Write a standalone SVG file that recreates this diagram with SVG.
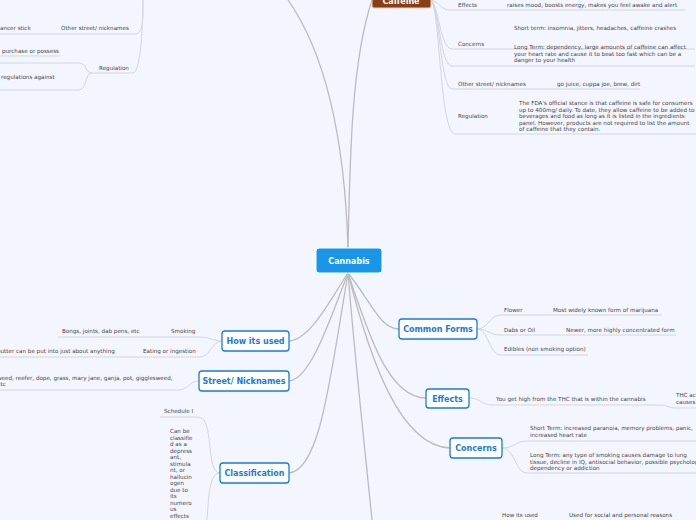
<svg xmlns="http://www.w3.org/2000/svg" width="696" height="520" viewBox="0 0 696 520">
<style>
.t{font-family:"DejaVu Sans",sans-serif;font-size:5.6px;fill:#444}
.n{font-family:"DejaVu Sans",sans-serif;font-size:8px;font-weight:bold;fill:#1a7ae0;text-anchor:middle}
.bx{fill:#fff;stroke:#1a7ae0;stroke-width:1.3}
.c{fill:none;stroke:#bcbcbc;stroke-width:1.3}
.u{fill:none;stroke:#d4d6dc;stroke-width:1}
</style>
<rect width="696" height="520" fill="#f3f6fe"/>
<g id="connectors">
<path class="c" d="M348 248 C345 150 330 60 288 0"/>
<path class="c" d="M348 248 C350 150 352 60 372 0"/>
<path class="c" d="M348 273 C330 300 310 340 289 341"/>
<path class="c" d="M348 273 C330 320 310 380 289 381"/>
<path class="c" d="M348 273 C330 380 320 470 289 473"/>
<path class="c" d="M348 273 C370 300 380 329 399 329"/>
<path class="c" d="M348 273 C370 340 390 398 426 398"/>
<path class="c" d="M348 273 C370 360 400 446 450 448"/>
<path class="c" d="M348 273 C355 360 365 450 372 520"/>
<path class="u" d="M431 0 C440 2 440 10 450 10 L685 10"/>
<path class="u" d="M431 0 C440 10 440 48 452 49 L695 49"/>
<path class="u" d="M431 0 C440 10 440 66 452 66 L695 66"/>
<path class="u" d="M431 0 C440 10 440 88 452 89 L640 89"/>
<path class="u" d="M431 0 C440 10 440 134 455 134 L696 134"/>
<path class="u" d="M143 0 C143 20 143 34 135 34 L0 34"/>
<path class="u" d="M143 0 C143 30 140 73 133 73 L92 73"/>
<path class="u" d="M92 73 C84 73 88 63 78 63 L0 63"/>
<path class="u" d="M92 73 C84 73 88 90 78 90 L0 90"/>
<path class="u" d="M0 56 L60 56"/>
<path class="u" d="M222 341 C212 341 210 337 200 337 L58 337"/>
<path class="u" d="M222 341 C212 341 210 357 200 357 L0 357"/>
<path class="u" d="M199 381 C189 381 188 390 178 390 L0 390"/>
<path class="u" d="M220 473 C205 473 215 417 198 417 L160 417"/>
<path class="u" d="M220 473 C205 473 210 520 205 525"/>
<path class="u" d="M477 329 C488 329 490 315 500 315 L662 315"/>
<path class="u" d="M477 329 C488 329 490 335 500 335 L676 335"/>
<path class="u" d="M477 329 C488 329 490 355 500 355 L588 355"/>
<path class="u" d="M469 398 C480 398 482 405 492 405 L660 405 C668 405 668 408 676 408 L696 408"/>
<path class="u" d="M502 448 C515 448 515 441 527 441 L696 441"/>
<path class="u" d="M502 448 C515 448 515 473 527 473 L696 473"/>
</g>
<g id="cannabis"><rect x="316" y="248" width="66" height="25" rx="3" fill="#1a96e8" stroke="#fff"/><text x="349" y="264" class="n" style="fill:#fff">Cannabis</text></g>
<g id="caffeine"><rect x="372" y="-10" width="59" height="18" rx="2" fill="#8b3e15" stroke="#e6d0c0"/><text x="401" y="4" class="n" style="fill:#fff">Caffeine</text></g>
<g id="how"><rect class="bx" x="222" y="331" width="67" height="20" rx="3"/><text x="255.5" y="344" class="n">How its used</text></g>
<g id="street"><rect class="bx" x="199" y="371" width="90" height="20" rx="3"/><text x="244" y="384" class="n">Street/ Nicknames</text></g>
<g id="class"><rect class="bx" x="220" y="463" width="69" height="20" rx="3"/><text x="254.5" y="476" class="n">Classification</text></g>
<g id="forms"><rect class="bx" x="399" y="319" width="78" height="20" rx="3"/><text x="438" y="332" class="n">Common Forms</text></g>
<g id="effects"><rect class="bx" x="426" y="389" width="43" height="19" rx="3"/><text x="447.5" y="401.5" class="n">Effects</text></g>
<g id="concerns"><rect class="bx" x="450" y="438" width="52" height="20" rx="3"/><text x="476" y="451" class="n">Concerns</text></g>
<g id="texts">
<text class="t" x="458" y="7">Effects</text>
<text class="t" x="507" y="7">raises mood, boosts energy, makes you feel awake and alert</text>
<text class="t" x="514" y="30">Short term: insomnia, jitters, headaches, caffeine crashes</text>
<text class="t" x="458" y="46">Concerns</text>
<text class="t" x="514" y="49">Long Term: dependency, large amounts of caffeine can affect</text>
<text class="t" x="514" y="56">your heart rate and cause it to beat too fast which can be a</text>
<text class="t" x="514" y="62">danger to your health</text>
<text class="t" x="458" y="86">Other street/ nicknames</text>
<text class="t" x="557" y="86">go juice, cuppa joe, brew, dirt</text>
<text class="t" x="519" y="105">The FDA's official stance is that caffeine is safe for consumers</text>
<text class="t" x="519" y="111.5">up to 400mg/ daily. To date, they allow caffeine to be added to</text>
<text class="t" x="519" y="118">beverages and food as long as it is listed in the ingredients</text>
<text class="t" x="519" y="124.5">panel. However, products are not required to list the amount</text>
<text class="t" x="519" y="131">of caffeine that they contain.</text>
<text class="t" x="458" y="118">Regulation</text>
<text class="t" x="-3" y="30">cancer stick</text>
<text class="t" x="61" y="30">Other street/ nicknames</text>
<text class="t" x="2" y="53">purchase or possess</text>
<text class="t" x="99" y="70">Regulation</text>
<text class="t" x="1" y="79">regulations against</text>
<text class="t" x="62" y="333">Bongs, joints, dab pens, etc</text>
<text class="t" x="171" y="333">Smoking</text>
<text class="t" x="-3" y="353">butter can be put into just about anything</text>
<text class="t" x="143" y="353">Eating or ingestion</text>
<text class="t" x="-3" y="380">weed, reefer, dope, grass, mary jane, ganja, pot, gigglesweed,</text>
<text class="t" x="-3" y="386">etc</text>
<text class="t" x="164" y="413">Schedule I</text>
<text class="t" x="170" y="433">Can be</text>
<text class="t" x="170" y="439.5">classifie</text>
<text class="t" x="170" y="446">d as a</text>
<text class="t" x="170" y="452.5">depress</text>
<text class="t" x="170" y="459">ant,</text>
<text class="t" x="170" y="465.5">stimula</text>
<text class="t" x="170" y="472">nt, or</text>
<text class="t" x="170" y="478.5">hallucin</text>
<text class="t" x="170" y="485">ogen</text>
<text class="t" x="170" y="491.5">due to</text>
<text class="t" x="170" y="498">its</text>
<text class="t" x="170" y="504.5">numero</text>
<text class="t" x="170" y="511">us</text>
<text class="t" x="170" y="517.5">effects</text>
<text class="t" x="504" y="312">Flower</text>
<text class="t" x="553" y="312">Most widely known form of marijuana</text>
<text class="t" x="504" y="332">Dabs or Oil</text>
<text class="t" x="566" y="332">Newer, more highly concentrated form</text>
<text class="t" x="504" y="351">Edibles (non smoking option)</text>
<text class="t" x="496" y="401">You get high from the THC that is within the cannabis</text>
<text class="t" x="676" y="397">THC acts</text>
<text class="t" x="676" y="404">causes</text>
<text class="t" x="530" y="430">Short Term: increased paranoia, memory problems, panic,</text>
<text class="t" x="530" y="437">increased heart rate</text>
<text class="t" x="530" y="457">Long Term: any type of smoking causes damage to lung</text>
<text class="t" x="530" y="463.5">tissue, decline in IQ, antisocial behavior, possible psychological</text>
<text class="t" x="530" y="470">dependency or addiction</text>
<text class="t" x="502" y="517">How its used</text>
<text class="t" x="569" y="517">Used for social and personal reasons</text>
</g>
</svg>
